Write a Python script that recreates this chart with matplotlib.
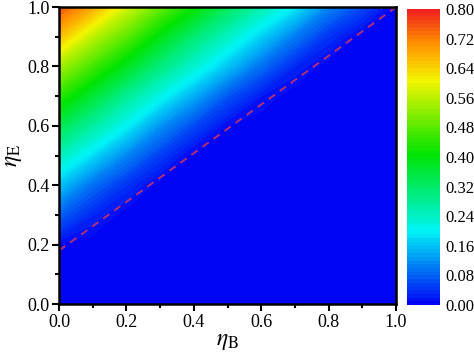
import numpy as np
import matplotlib
matplotlib.use("Agg")
import matplotlib.pyplot as plt
from matplotlib.colors import LinearSegmentedColormap

# --- data ---
eta_b = [0.0, 0.1, 0.2, 0.3, 0.4, 0.5, 0.6, 0.7, 0.8, 0.9, 1.0]
eta_e = [0.0, 0.1, 0.2, 0.3, 0.4, 0.5, 0.6, 0.7, 0.8, 0.9, 1.0]
# rows = eta_e (bottom -> top), columns = eta_b (left -> right)
z_rows = [
    [0.00, 0.00, 0.00, 0.00, 0.00, 0.00, 0.00, 0.00, 0.00, 0.00, 0.00],
    [0.00, 0.00, 0.00, 0.00, 0.00, 0.00, 0.00, 0.00, 0.00, 0.00, 0.00],
    [0.01, 0.00, 0.00, 0.00, 0.00, 0.00, 0.00, 0.00, 0.00, 0.00, 0.00],
    [0.08, 0.03, 0.00, 0.00, 0.00, 0.00, 0.00, 0.00, 0.00, 0.00, 0.00],
    [0.16, 0.09, 0.04, 0.00, 0.00, 0.00, 0.00, 0.00, 0.00, 0.00, 0.00],
    [0.25, 0.18, 0.11, 0.05, 0.00, 0.00, 0.00, 0.00, 0.00, 0.00, 0.00],
    [0.34, 0.27, 0.20, 0.12, 0.06, 0.01, 0.00, 0.00, 0.00, 0.00, 0.00],
    [0.44, 0.36, 0.28, 0.21, 0.14, 0.07, 0.02, 0.00, 0.00, 0.00, 0.00],
    [0.54, 0.46, 0.38, 0.30, 0.23, 0.16, 0.09, 0.03, 0.00, 0.00, 0.00],
    [0.66, 0.56, 0.48, 0.39, 0.31, 0.24, 0.17, 0.10, 0.04, 0.00, 0.00],
    [0.76, 0.68, 0.58, 0.49, 0.41, 0.33, 0.26, 0.19, 0.11, 0.06, 0.00],
]
# dashed boundary line
line_b = [0.0, 1.0]
line_e = [0.18, 1.0]
cbar_ticks = [0.00, 0.08, 0.16, 0.24, 0.32, 0.40, 0.48, 0.56, 0.64, 0.72, 0.80]

# --- style ---
plt.rcParams['font.family'] = ['Liberation Serif', 'DejaVu Serif']
plt.rcParams['mathtext.fontset'] = 'stix'
plt.rcParams['font.size'] = 13

cmap = LinearSegmentedColormap.from_list("origin_rainbow", [
    (0.00, "#0000f5"),
    (0.25, "#00f5f5"),
    (0.51, "#00e400"),
    (0.76, "#f5f500"),
    (0.89, "#ff8c00"),
    (1.00, "#f01e1e"),
])

fig = plt.figure(figsize=(4.74, 3.53), dpi=100)
ax = fig.add_axes([0.1245, 0.1388, 0.711, 0.8412])
cax = fig.add_axes([0.8586, 0.136, 0.0696, 0.8385])

levels = np.linspace(0.0, 0.8, 81)
cs = ax.contourf(eta_b, eta_e, np.array(z_rows), levels=levels, cmap=cmap,
                 vmin=0.0, vmax=0.8)
ax.plot(line_b, line_e, linestyle=(0, (4, 3)), color='#b0307a', linewidth=1.4)

ax.set_xlim(0, 1)
ax.set_ylim(0, 1)
ax.set_xticks(np.arange(0, 1.01, 0.2))
ax.set_yticks(np.arange(0, 1.01, 0.2))
ax.set_xticks(np.arange(0.1, 1.0, 0.2), minor=True)
ax.set_yticks(np.arange(0.1, 1.0, 0.2), minor=True)
ax.xaxis.set_major_formatter(matplotlib.ticker.FormatStrFormatter('%.1f'))
ax.yaxis.set_major_formatter(matplotlib.ticker.FormatStrFormatter('%.1f'))
ax.tick_params(which='major', direction='out', length=5, width=1.5, pad=2)
ax.tick_params(which='minor', direction='out', length=3, width=1.5)
for sp in ax.spines.values():
    sp.set_linewidth(1.8)

ax.set_xlabel(r'$\eta_{\mathrm{B}}$', fontsize=17, labelpad=0)
ax.set_ylabel(r'$\eta_{\mathrm{E}}$', fontsize=17, labelpad=2)

cb = fig.colorbar(cs, cax=cax, ticks=cbar_ticks)
cb.outline.set_visible(False)
cb.ax.tick_params(length=0, pad=4, labelsize=12)
cb.ax.yaxis.set_major_formatter(matplotlib.ticker.FormatStrFormatter('%.2f'))
cax.set_ylim(0, 0.8)

fig.savefig("out.png", dpi=100)
